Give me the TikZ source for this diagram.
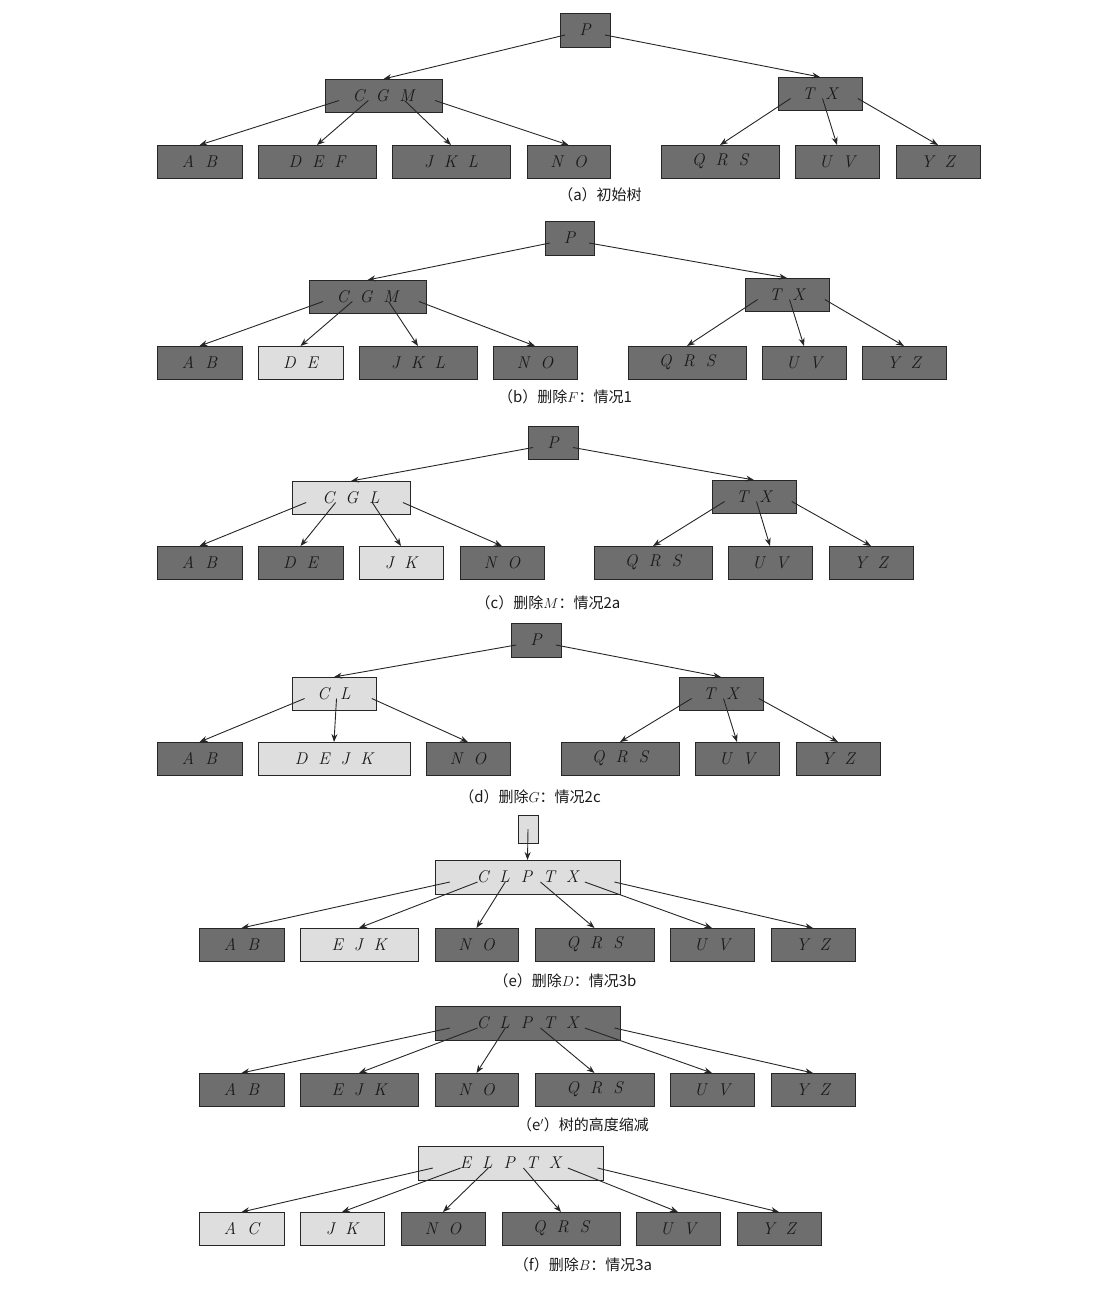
\documentclass[tikz,border=0pt]{standalone}
\usepackage{fontspec}
\newfontfamily\cjk{Noto Sans CJK SC}
\usetikzlibrary{calc,arrows.meta}
\definecolor{dkf}{HTML}{6E6E6E}
\definecolor{ltf}{HTML}{DEDEDE}
\newcommand\gap{\hspace{11pt}}
\newcommand\bx[7]{\node[#6, minimum width={#4-#2}, minimum height={#5-#3}] (#1) at ({(#2+#4)/2},{(#3+#5)/2}) {#7};}
\newcommand\ed[3]{\draw[arr] ($(#1.west)!#2!(#1.east)+(0,5)$) -- (#3.north);}
\tikzset{
 box/.style={draw=black!85, line width=1pt, inner sep=0pt, outer sep=0pt, font=\fontsize{17}{20}\selectfont\itshape, text=black!90},
 dk/.style={box, fill=dkf},
 lt/.style={box, fill=ltf},
 arr/.style={line width=0.9pt, draw=black!85, -{Stealth[length=8pt,width=6pt]}},
 captext/.style={font=\cjk\fontsize{15}{18}\selectfont, text=black!90}
}
\begin{document}
\begin{tikzpicture}[x=1pt,y=-1pt]
\useasboundingbox (0,0) rectangle (1116,1294);
% (a)
\bx{aP}{560}{13}{610}{47}{dk}{P}
\bx{aC}{325}{79}{442}{112}{dk}{C\gap G\gap M}
\bx{aT}{778}{77}{862}{110}{dk}{T\gap X}
\bx{a1}{157}{145}{242}{178}{dk}{A\gap B}
\bx{a2}{258}{145}{376}{178}{dk}{D\gap E\gap F}
\bx{a3}{392}{145}{510}{178}{dk}{J\gap K\gap L}
\bx{a4}{527}{145}{610}{178}{dk}{N\gap O}
\bx{a5}{661}{145}{779}{178}{dk}{Q\gap R\gap S}
\bx{a6}{795}{145}{879}{178}{dk}{U\gap V}
\bx{a7}{896}{145}{980}{178}{dk}{Y\gap Z}
\ed{aP}{0.1}{aC}\ed{aP}{0.9}{aT}
\ed{aC}{0.12}{a1}\ed{aC}{0.37}{a2}\ed{aC}{0.68}{a3}\ed{aC}{0.94}{a4}
\ed{aT}{0.15}{a5}\ed{aT}{0.53}{a6}\ed{aT}{0.95}{a7}
\node[captext] at (600,195) {（a）初始树};
% (b)
\bx{bP}{545}{221}{594}{255}{dk}{P}
\bx{bC}{309}{280}{426}{313}{dk}{C\gap G\gap M}
\bx{bT}{745}{278}{829}{311}{dk}{T\gap X}
\bx{b1}{157}{346}{242}{379}{dk}{A\gap B}
\bx{b2}{258}{346}{343}{379}{lt}{D\gap E}
\bx{b3}{359}{346}{477}{379}{dk}{J\gap K\gap L}
\bx{b4}{493}{346}{577}{379}{dk}{N\gap O}
\bx{b5}{628}{346}{746}{379}{dk}{Q\gap R\gap S}
\bx{b6}{762}{346}{846}{379}{dk}{U\gap V}
\bx{b7}{862}{346}{946}{379}{dk}{Y\gap Z}
\ed{bP}{0.1}{bC}\ed{bP}{0.9}{bT}
\ed{bC}{0.12}{b1}\ed{bC}{0.37}{b2}\ed{bC}{0.68}{b3}\ed{bC}{0.94}{b4}
\ed{bT}{0.15}{b5}\ed{bT}{0.53}{b6}\ed{bT}{0.95}{b7}
\node[captext] at (565,397) {（b）删除$F$：情况1};
% (c)
\bx{cP}{528}{426}{578}{459}{dk}{P}
\bx{cC}{292}{481}{410}{514}{lt}{C\gap G\gap L}
\bx{cT}{712}{480}{796}{513}{dk}{T\gap X}
\bx{c1}{157}{546}{242}{579}{dk}{A\gap B}
\bx{c2}{258}{546}{343}{579}{dk}{D\gap E}
\bx{c3}{359}{546}{443}{579}{lt}{J\gap K}
\bx{c4}{460}{546}{544}{579}{dk}{N\gap O}
\bx{c5}{594}{546}{712}{579}{dk}{Q\gap R\gap S}
\bx{c6}{728}{546}{812}{579}{dk}{U\gap V}
\bx{c7}{829}{546}{913}{579}{dk}{Y\gap Z}
\ed{cP}{0.1}{cC}\ed{cP}{0.9}{cT}
\ed{cC}{0.12}{c1}\ed{cC}{0.37}{c2}\ed{cC}{0.68}{c3}\ed{cC}{0.94}{c4}
\ed{cT}{0.15}{c5}\ed{cT}{0.53}{c6}\ed{cT}{0.95}{c7}
\node[captext] at (548,603) {（c）删除$M$：情况2a};
% (d)
\bx{dP}{511}{623}{561}{657}{dk}{P}
\bx{dC}{292}{677}{376}{710}{lt}{C\gap L}
\bx{dT}{679}{677}{763}{710}{dk}{T\gap X}
\bx{d1}{157}{742}{242}{775}{dk}{A\gap B}
\bx{d2}{258}{742}{410}{775}{lt}{D\gap E\gap J\gap K}
\bx{d4}{426}{742}{510}{775}{dk}{N\gap O}
\bx{d5}{561}{742}{679}{775}{dk}{Q\gap R\gap S}
\bx{d6}{695}{742}{779}{775}{dk}{U\gap V}
\bx{d7}{796}{742}{880}{775}{dk}{Y\gap Z}
\ed{dP}{0.1}{dC}\ed{dP}{0.9}{dT}
\ed{dC}{0.15}{d1}\ed{dC}{0.53}{d2}\ed{dC}{0.95}{d4}
\ed{dT}{0.15}{d5}\ed{dT}{0.53}{d6}\ed{dT}{0.95}{d7}
\node[captext] at (530,797) {（d）删除$G$：情况2c};
% (e)
\bx{eR}{518}{815}{538}{843}{lt}{}
\bx{eC}{435}{860}{620}{894}{lt}{C\gap L\gap P\gap T\gap X}
\bx{e1}{199}{928}{284}{961}{dk}{A\gap B}
\bx{e2}{300}{928}{418}{961}{lt}{E\gap J\gap K}
\bx{e3}{435}{928}{518}{961}{dk}{N\gap O}
\bx{e4}{535}{928}{654}{961}{dk}{Q\gap R\gap S}
\bx{e5}{670}{928}{754}{961}{dk}{U\gap V}
\bx{e6}{771}{928}{855}{961}{dk}{Y\gap Z}
\draw[arr] (eR.center) -- (eC.north);
\ed{eC}{0.08}{e1}\ed{eC}{0.23}{e2}\ed{eC}{0.38}{e3}\ed{eC}{0.57}{e4}\ed{eC}{0.81}{e5}\ed{eC}{0.97}{e6}
\node[captext] at (565,981) {（e）删除$D$：情况3b};
% (e')
\bx{gC}{435}{1006}{620}{1040}{dk}{C\gap L\gap P\gap T\gap X}
\bx{g1}{199}{1073}{284}{1106}{dk}{A\gap B}
\bx{g2}{300}{1073}{418}{1106}{dk}{E\gap J\gap K}
\bx{g3}{435}{1073}{518}{1106}{dk}{N\gap O}
\bx{g4}{535}{1073}{654}{1106}{dk}{Q\gap R\gap S}
\bx{g5}{670}{1073}{754}{1106}{dk}{U\gap V}
\bx{g6}{771}{1073}{855}{1106}{dk}{Y\gap Z}
\ed{gC}{0.08}{g1}\ed{gC}{0.23}{g2}\ed{gC}{0.38}{g3}\ed{gC}{0.57}{g4}\ed{gC}{0.81}{g5}\ed{gC}{0.97}{g6}
\node[captext] at (583,1125) {（e$'$）树的高度缩减};
% (f)
\bx{fC}{418}{1146}{603}{1180}{lt}{E\gap L\gap P\gap T\gap X}
\bx{f1}{199}{1212}{284}{1245}{lt}{A\gap C}
\bx{f2}{300}{1212}{384}{1245}{lt}{J\gap K}
\bx{f3}{401}{1212}{485}{1245}{dk}{N\gap O}
\bx{f4}{502}{1212}{620}{1245}{dk}{Q\gap R\gap S}
\bx{f5}{636}{1212}{720}{1245}{dk}{U\gap V}
\bx{f6}{737}{1212}{821}{1245}{dk}{Y\gap Z}
\ed{fC}{0.08}{f1}\ed{fC}{0.23}{f2}\ed{fC}{0.38}{f3}\ed{fC}{0.57}{f4}\ed{fC}{0.81}{f5}\ed{fC}{0.97}{f6}
\node[captext] at (583,1265) {（f）删除$B$：情况3a};
\end{tikzpicture}
\end{document}
